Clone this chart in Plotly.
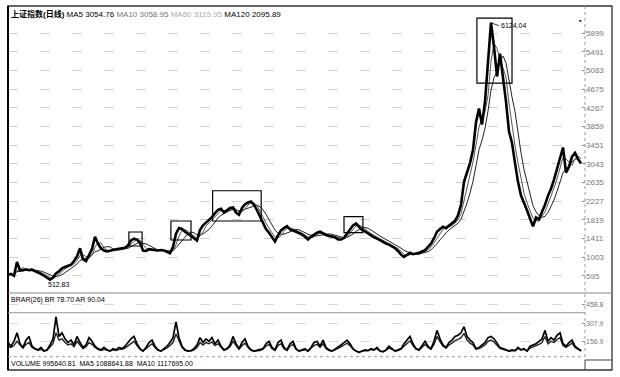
import plotly.graph_objects as go
import pandas as pd

# ---------------- data ----------------
close = [
    620, 640, 600, 900, 720, 720, 740, 720, 730, 700,
    680, 640, 600, 560, 512.83, 560, 650, 700, 760, 790,
    820, 840, 920, 1020, 1200, 960, 920, 1050, 1180, 1450,
    1300, 1200, 1150, 1130, 1150, 1170, 1180, 1190, 1200, 1210,
    1260, 1370, 1410, 1390, 1320, 1150, 1140, 1180, 1170, 1160,
    1150, 1160, 1150, 1120, 1090, 1230, 1520, 1640, 1620, 1560,
    1520, 1470, 1420, 1370, 1600, 1700, 1760, 1810, 1880, 1970,
    2040, 2060, 1980, 2030, 2080, 2090, 1980, 1930, 2080, 2160,
    2200, 2220, 2150, 2030, 1880, 1740, 1620, 1540, 1450, 1350,
    1480, 1590, 1640, 1680, 1610, 1590, 1560, 1530, 1500, 1450,
    1390, 1450, 1500, 1540, 1560, 1520, 1490, 1470, 1450, 1440,
    1390, 1390, 1430, 1520, 1630, 1700, 1740, 1680, 1600, 1570,
    1520, 1480, 1440, 1410, 1380, 1340, 1300, 1280, 1240, 1200,
    1140, 1060, 1010, 1060, 1100, 1070, 1080, 1100, 1130, 1160,
    1230, 1300, 1420, 1560, 1620, 1670, 1640, 1700, 1750, 1800,
    1920, 2150, 2650, 2850, 3060, 3350, 3950, 4250, 3900, 4400,
    5300, 6124.04, 5600, 4950, 5450, 4950, 4400, 3750, 3500, 3060,
    2650, 2350, 2200, 2030, 1850, 1680, 1870, 1830, 2000, 2150,
    2350, 2500, 2700, 2950, 3200, 3400, 2850, 2980, 3200, 3280,
    3150, 3050,
]

br = [
    150, 120, 160, 230, 140, 110, 170, 200, 120, 100,
    90, 110, 80, 90, 130, 180, 360, 200, 230, 180,
    150, 170, 130, 200, 150, 110, 130, 190, 160, 120,
    100, 90, 110, 90, 80, 100, 90, 110, 100, 120,
    150, 180, 200, 140, 100, 80, 110, 150, 170, 120,
    90, 80, 100, 120, 150, 190, 320, 190, 120, 90,
    80, 85, 100, 130, 190, 150, 180, 160, 190, 140,
    170, 120, 90, 100, 130, 200, 140, 100, 150, 180,
    120, 90, 80, 85, 90, 100, 140, 160, 110, 90,
    150, 170, 110, 90, 140, 160, 100, 80, 90, 100,
    80, 110, 150, 160, 120, 170, 110, 90, 80, 95,
    110, 130, 150, 170, 140, 100, 80, 70, 80, 90,
    85, 100, 90, 110, 80, 75, 90, 120, 100, 80,
    90, 100, 140, 170, 200, 140, 100, 90, 130, 160,
    120, 100, 160, 250, 180, 130, 110, 150, 170, 200,
    210, 230, 280, 200, 170, 150, 100, 110, 130, 150,
    190, 200, 180, 140, 110, 100, 90, 80, 90, 85,
    110, 90, 100, 80, 120, 130, 140, 160, 180, 250,
    160, 190, 170, 210, 230, 140, 120, 150, 170, 120,
    100, 79,
]

ar = [
    120, 110, 125, 160, 130, 105, 135, 150, 110, 95,
    85, 95, 80, 85, 110, 140, 230, 170, 180, 150,
    130, 140, 115, 160, 130, 100, 115, 150, 135, 110,
    95, 85, 95, 85, 80, 90, 85, 95, 95, 105,
    125, 145, 160, 125, 95, 80, 100, 125, 140, 110,
    85, 80, 90, 105, 125, 150, 220, 160, 110, 85,
    80, 80, 90, 110, 150, 130, 150, 140, 155, 125,
    140, 110, 85, 95, 115, 160, 125, 95, 125, 145,
    110, 85, 80, 80, 85, 95, 120, 135, 100, 85,
    125, 140, 100, 85, 120, 135, 95, 80, 85, 90,
    80, 100, 125, 135, 110, 140, 100, 85, 80, 90,
    100, 115, 130, 145, 125, 95, 80, 70, 78, 85,
    82, 92, 88, 100, 80, 75, 85, 105, 95, 80,
    85, 95, 120, 140, 165, 125, 95, 88, 115, 135,
    110, 95, 135, 200, 155, 120, 105, 130, 145, 165,
    175, 190, 225, 170, 145, 130, 95, 100, 115, 130,
    160, 170, 155, 125, 100, 95, 88, 80, 85, 82,
    100, 88, 95, 80, 105, 115, 120, 135, 150, 200,
    140, 160, 150, 175, 190, 125, 110, 130, 145, 110,
    95, 90,
]

price_ticks = [595, 1003, 1411, 1819, 2227, 2635, 3043, 3451, 3859, 4267, 4675, 5083, 5491, 5899]
brar_ticks = [156.9, 307.9, 458.8]
brar_ticktext = ["156.9", "307.9", "458.8"]

# highlighted boxes: (x from, x to, price low, price high) in bar index units
boxes = [
    (40.3, 44.7, 1249, 1555),
    (54.3, 61.0, 1380, 1795),
    (68.2, 84.4, 1795, 2456),
    (112.0, 118.3, 1540, 1889),
    (156.3, 168.0, 4807, 6226),
]

title_text = ("<b>上证指数(日线)</b> MA5 3054.76 "
              "<span style='color:#777'>MA10 3058.95</span> "
              "<span style='color:#aaa'>MA60 3115.95</span> "
              "MA120 2095.89")
brar_text = "BRAR(26) BR 78.70 AR 90.04"
vol_text = "VOLUME 995640.81  MA5 1088641.88  MA10 1117695.00"

# ---------------- figure ----------------
idx = list(range(len(close)))
s = pd.Series(close)
ma_mid = s.rolling(3, min_periods=1).mean()
ma_long = s.rolling(6, min_periods=1).mean()

FONT = "Liberation Sans, Arial, Noto Sans CJK SC, sans-serif"

fig = go.Figure()
fig.add_trace(go.Scatter(x=idx, y=ma_long, mode="lines",
                         line=dict(color="#222", width=1), hoverinfo="skip"))
fig.add_trace(go.Scatter(x=idx, y=ma_mid, mode="lines",
                         line=dict(color="#555", width=1), hoverinfo="skip"))
fig.add_trace(go.Scatter(x=idx, y=close, mode="lines",
                         line=dict(color="#000", width=2.6)))
fig.add_trace(go.Scatter(x=idx, y=ar, mode="lines", xaxis="x2", yaxis="y2",
                         line=dict(color="#222", width=1.4)))
fig.add_trace(go.Scatter(x=idx, y=br, mode="lines", xaxis="x2", yaxis="y2",
                         line=dict(color="#000", width=1.7)))

xr = [0, 192.33]
fig.update_layout(
    width=620, height=377,
    margin=dict(l=8, r=35, t=6, b=7),
    paper_bgcolor="white", plot_bgcolor="white",
    showlegend=False,
    font=dict(family=FONT, size=8, color="#000"),
    xaxis=dict(domain=[0, 1], range=xr, showticklabels=False, showgrid=False,
               zeroline=False, showline=False, anchor="y"),
    xaxis2=dict(domain=[0, 1], range=xr, showticklabels=False, showgrid=False,
                zeroline=False, showline=False, anchor="y2", matches="x"),
    yaxis=dict(domain=[0.2115, 1.0], range=[223, 6489], side="right",
               tickvals=price_ticks, ticktext=[str(v) for v in price_ticks],
               ticks="inside", ticklen=3, tickcolor="#888",
               tickfont=dict(size=8, color="#777"),
               showgrid=True, gridcolor="#cfcfcf", griddash="10px,22px", gridwidth=1,
               zeroline=False, showline=False),
    yaxis2=dict(domain=[0.0357, 0.2115], range=[31.4, 556.2], side="right",
                anchor="x2",
                tickvals=brar_ticks, ticktext=brar_ticktext,
                ticks="inside", ticklen=3, tickcolor="#888",
                tickfont=dict(size=7, color="#777"),
                showgrid=True, gridcolor="#d8d8d8", griddash="10px,22px", gridwidth=1,
                zeroline=False, showline=False),
)

shapes = []
for (x0, x1, p0, p1) in boxes:
    shapes.append(dict(type="rect", xref="x", yref="y", x0=x0, x1=x1, y0=p0, y1=p1,
                       line=dict(color="#000", width=1.2), fillcolor="rgba(0,0,0,0)"))
right = (612 - 8) / 577
# outer frame
shapes.append(dict(type="rect", xref="paper", yref="paper", x0=0, x1=right, y0=0, y1=1,
                   line=dict(color="#333", width=1.3)))
shapes.append(dict(type="line", xref="paper", yref="paper", x0=0, x1=0, y0=0, y1=1,
                   line=dict(color="#000", width=2)))
# dotted price axis line
shapes.append(dict(type="line", xref="paper", yref="paper", x0=1, x1=1, y0=0.0357, y1=1,
                   line=dict(color="#999", width=1, dash="dot")))
# pane separators
shapes.append(dict(type="line", xref="paper", yref="paper", x0=0, x1=right, y0=0.2115, y1=0.2115,
                   line=dict(color="#888", width=1.2)))
shapes.append(dict(type="line", xref="paper", yref="paper", x0=0, x1=1, y0=0.1574, y1=0.1574,
                   line=dict(color="#999", width=1)))
shapes.append(dict(type="line", xref="paper", yref="paper", x0=0, x1=1, y0=0.0365, y1=0.0365,
                   line=dict(color="#999", width=1, dash="dot")))
shapes.append(dict(type="line", xref="paper", yref="paper", x0=1, x1=right, y0=0.0275, y1=0.0275,
                   line=dict(color="#444", width=1)))
shapes.append(dict(type="line", xref="paper", yref="paper", x0=1, x1=1, y0=0, y1=0.0275,
                   line=dict(color="#444", width=1)))
fig.update_layout(shapes=shapes)

peak_i = close.index(max(close))
low_i = close.index(min(close))
annotations = [
    dict(xref="paper", yref="paper", x=0, y=1, xanchor="left", yanchor="top",
         xshift=1, yshift=-1, text=title_text, showarrow=False,
         font=dict(size=8, family=FONT, color="#000")),
    dict(xref="paper", yref="paper", x=0, y=0.2115, xanchor="left", yanchor="top",
         xshift=1, yshift=-1, text=brar_text, showarrow=False,
         font=dict(size=7, family=FONT, color="#000")),
    dict(xref="paper", yref="paper", x=0, y=0.0165, xanchor="left", yanchor="middle",
         xshift=1, text=vol_text, showarrow=False,
         font=dict(size=7, family=FONT, color="#000")),
    dict(xref="x", yref="y", x=peak_i, y=max(close), text=f"{max(close):.2f}",
         showarrow=True, arrowhead=0, arrowwidth=0.8, arrowcolor="#000",
         ax=8, ay=3, xanchor="left", font=dict(size=7, family=FONT, color="#000")),
    dict(xref="x", yref="y", x=low_i, y=min(close), text=f"{min(close):.2f}",
         showarrow=True, arrowhead=0, arrowwidth=0.8, arrowcolor="#000",
         ax=-4, ay=5, xanchor="left", font=dict(size=7, family=FONT, color="#000")),
    dict(xref="paper", yref="paper", x=1, y=1, xanchor="right", yanchor="top",
         xshift=-1, yshift=-9, text="▪", showarrow=False,
         font=dict(size=7, color="#000")),
]
fig.update_layout(annotations=annotations)

fig.write_html("out.html")
